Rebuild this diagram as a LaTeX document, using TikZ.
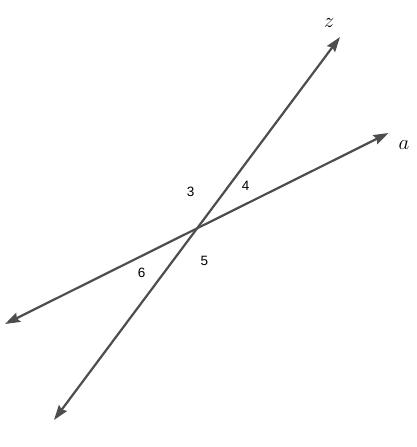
\documentclass[tikz,border=0pt]{standalone}
\usepackage{fontspec}
\newfontfamily\numfont{Liberation Sans}
\usetikzlibrary{arrows.meta}
\definecolor{linegray}{HTML}{4D4D4D}
\begin{document}
\begin{tikzpicture}[x=1pt,y=-1pt,
  ray/.style={draw=linegray,line width=2.2pt,{Stealth[length=15pt,width=10pt,inset=2pt]}-{Stealth[length=15pt,width=10pt,inset=2pt]}},
  num/.style={font=\numfont\fontsize{13.5}{14}\selectfont,text=black,inner sep=0pt},
  lbl/.style={font=\fontsize{20}{22}\selectfont,inner sep=0pt}]
\useasboundingbox (0,0) rectangle (417,447);
\coordinate (z1) at (54,420);
\coordinate (z2) at (340,37);
\coordinate (a1) at (5,324);
\coordinate (a2) at (388.5,133);
\draw[ray] (z1) -- (z2);
\draw[ray] (a1) -- (a2);
\node[lbl] (zl) at (329,23) {$z$};
\node[lbl] (al) at (404,145) {$a$};
\node[num] (n3) at (190.7,192) {3};
\node[num] (n4) at (245.7,185.5) {4};
\node[num] (n5) at (204.5,261) {5};
\node[num] (n6) at (141.7,272.5) {6};
\end{tikzpicture}
\end{document}
